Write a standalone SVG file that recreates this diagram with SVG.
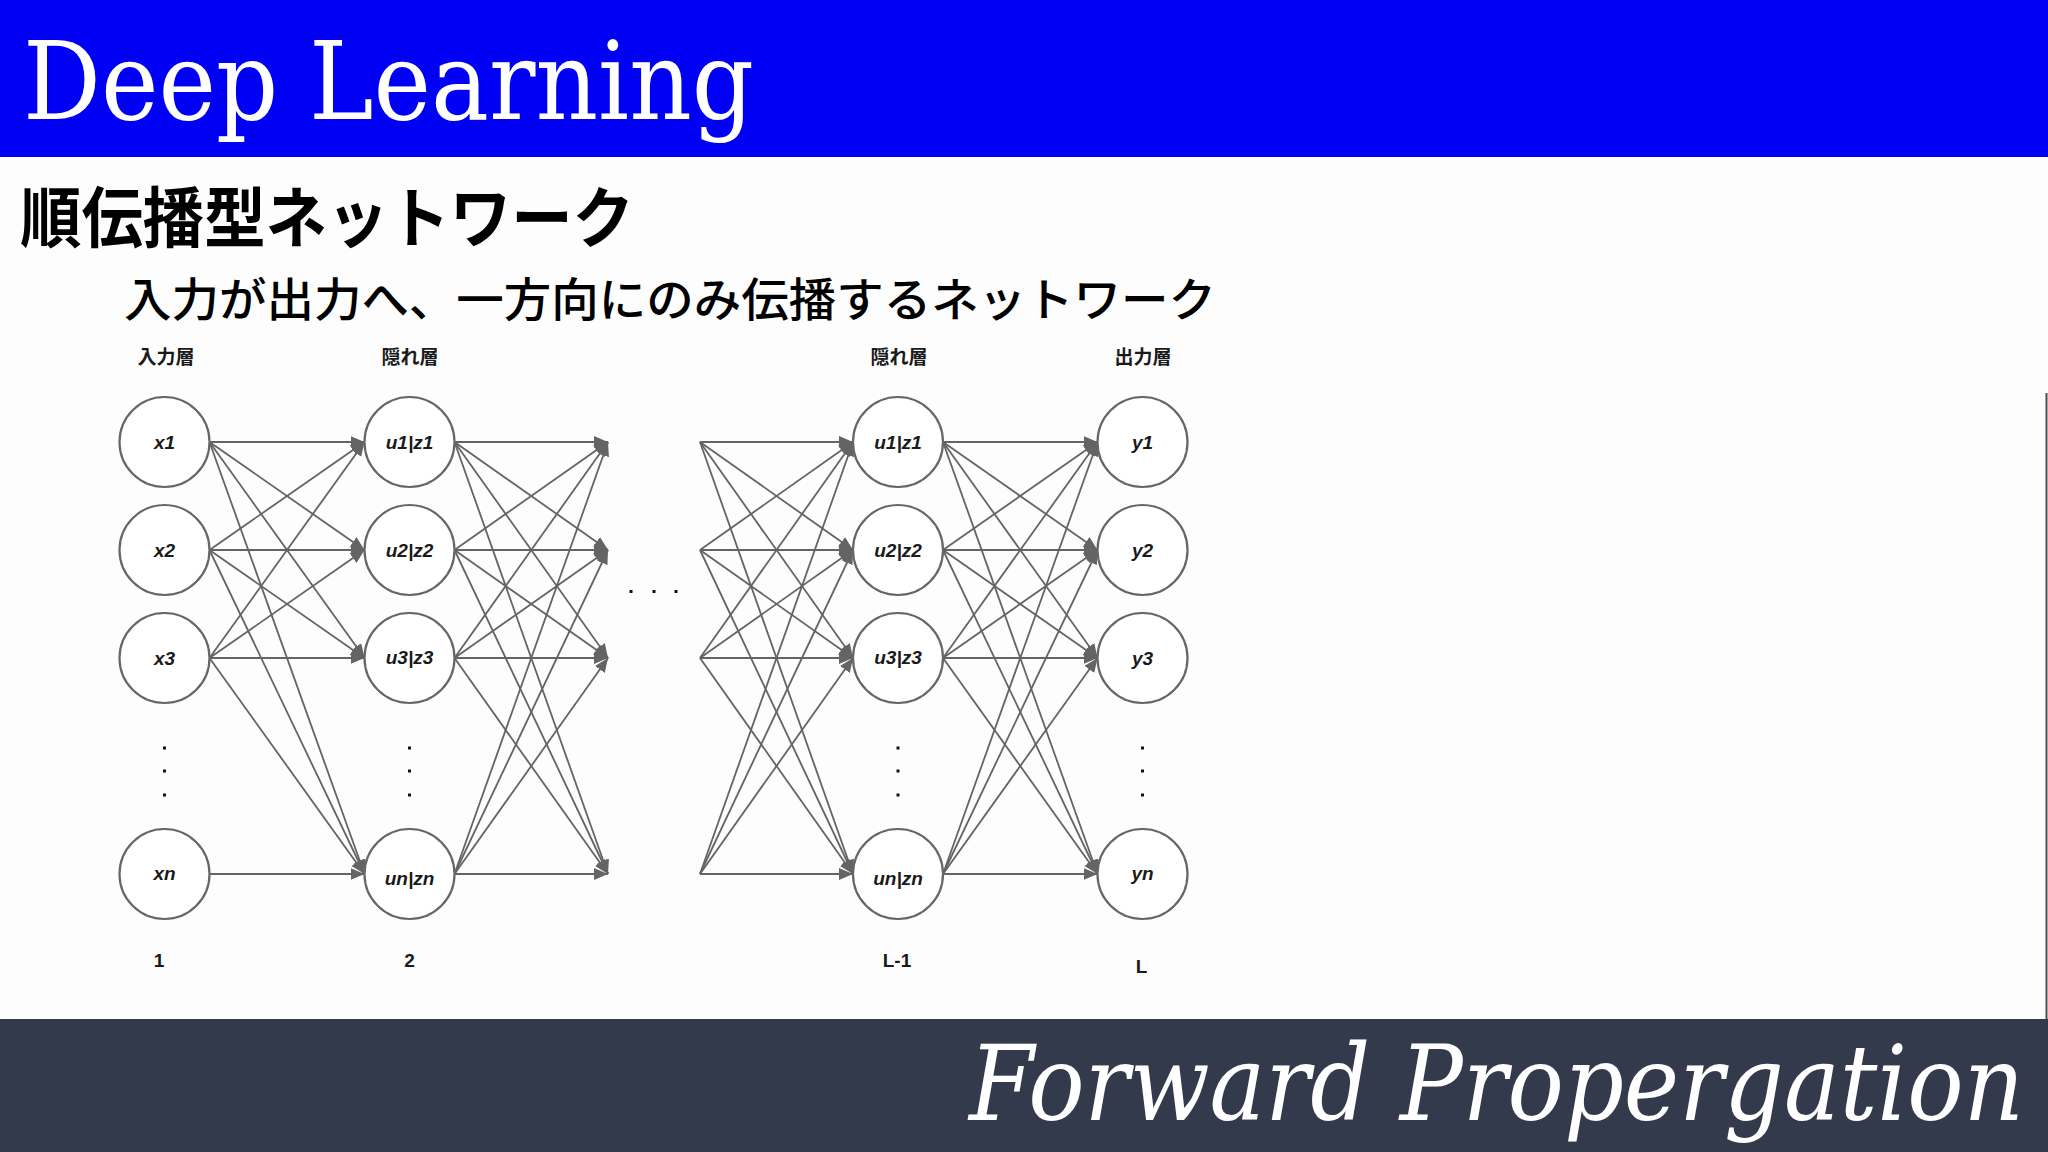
<svg xmlns="http://www.w3.org/2000/svg" width="2048" height="1152" viewBox="0 0 2048 1152">
  <style>
    .node circle { fill: #ffffff; stroke: #666666; stroke-width: 2.2; }
    .nl { font-family: "Liberation Sans", Arial, sans-serif; font-weight: bold; font-style: italic; font-size: 19px; fill: #1a1a1a; text-anchor: middle; }
    .ll { font-family: "Noto Sans CJK JP", "Noto Sans", sans-serif; font-weight: bold; font-size: 19px; fill: #1a1a1a; text-anchor: middle; }
    .num { font-family: "Liberation Sans", Arial, sans-serif; font-weight: bold; font-size: 19px; fill: #1a1a1a; text-anchor: middle; }
    .e { stroke: #646464; stroke-width: 1.8; fill: none; marker-end: url(#arr); }
    .dot { fill: #111111; }
  </style>
  <defs>
    <marker id="arr" markerUnits="userSpaceOnUse" markerWidth="15" markerHeight="13" refX="14" refY="6" orient="auto">
      <path d="M0,0 L14,6 L0,12 z" fill="#646464"/>
    </marker>
  </defs>

  <rect x="0" y="0" width="2048" height="1152" fill="#fdfdfd"/>

  <!-- Header -->
  <g id="header">
    <rect x="0" y="0" width="2048" height="157" fill="#0000f5"/>
    <text x="23" y="119" font-family="'DejaVu Serif Condensed', 'DejaVu Serif', serif" font-size="108" fill="#ffffff" textLength="731" lengthAdjust="spacingAndGlyphs">Deep Learning</text>
  </g>

  <!-- Titles -->
  <g id="titles">
    <text x="20" y="242" font-family="'Noto Sans CJK JP', sans-serif" font-weight="bold" font-size="66" fill="#000000" textLength="614" lengthAdjust="spacingAndGlyphs">順伝播型ネットワーク</text>
    <text x="124" y="316" font-family="'Noto Sans CJK JP', sans-serif" font-weight="500" font-size="46" fill="#000000" textLength="1092" lengthAdjust="spacingAndGlyphs">入力が出力へ、一方向にのみ伝播するネットワーク</text>
  </g>

  <!-- Layer labels -->
  <g id="layer-labels">
    <text class="ll" x="166" y="364">入力層</text>
    <text class="ll" x="410" y="364">隠れ層</text>
    <text class="ll" x="899" y="364">隠れ層</text>
    <text class="ll" x="1143" y="364">出力層</text>
  </g>

  <!-- Connectors -->
  <g id="connectors">
    <!-- layer 1 -> layer 2 -->
    <line class="e" x1="209.5" y1="442" x2="364.5" y2="442"/>
    <line class="e" x1="209.5" y1="442" x2="364.5" y2="550"/>
    <line class="e" x1="209.5" y1="442" x2="364.5" y2="658"/>
    <line class="e" x1="209.5" y1="442" x2="364.5" y2="874"/>
    <line class="e" x1="209.5" y1="550" x2="364.5" y2="442"/>
    <line class="e" x1="209.5" y1="550" x2="364.5" y2="550"/>
    <line class="e" x1="209.5" y1="550" x2="364.5" y2="658"/>
    <line class="e" x1="209.5" y1="550" x2="364.5" y2="874"/>
    <line class="e" x1="209.5" y1="658" x2="364.5" y2="442"/>
    <line class="e" x1="209.5" y1="658" x2="364.5" y2="550"/>
    <line class="e" x1="209.5" y1="658" x2="364.5" y2="658"/>
    <line class="e" x1="209.5" y1="658" x2="364.5" y2="874"/>
    <line class="e" x1="209.5" y1="874" x2="364.5" y2="874"/>
    <!-- layer 2 -> next -->
    <line class="e" x1="454.5" y1="442" x2="608" y2="442"/>
    <line class="e" x1="454.5" y1="442" x2="608" y2="550"/>
    <line class="e" x1="454.5" y1="442" x2="608" y2="658"/>
    <line class="e" x1="454.5" y1="442" x2="608" y2="874"/>
    <line class="e" x1="454.5" y1="550" x2="608" y2="442"/>
    <line class="e" x1="454.5" y1="550" x2="608" y2="550"/>
    <line class="e" x1="454.5" y1="550" x2="608" y2="658"/>
    <line class="e" x1="454.5" y1="550" x2="608" y2="874"/>
    <line class="e" x1="454.5" y1="658" x2="608" y2="442"/>
    <line class="e" x1="454.5" y1="658" x2="608" y2="550"/>
    <line class="e" x1="454.5" y1="658" x2="608" y2="658"/>
    <line class="e" x1="454.5" y1="658" x2="608" y2="874"/>
    <line class="e" x1="454.5" y1="874" x2="608" y2="442"/>
    <line class="e" x1="454.5" y1="874" x2="608" y2="550"/>
    <line class="e" x1="454.5" y1="874" x2="608" y2="658"/>
    <line class="e" x1="454.5" y1="874" x2="608" y2="874"/>
    <!-- previous -> layer L-1 -->
    <line class="e" x1="700" y1="442" x2="853" y2="442"/>
    <line class="e" x1="700" y1="442" x2="853" y2="550"/>
    <line class="e" x1="700" y1="442" x2="853" y2="658"/>
    <line class="e" x1="700" y1="442" x2="853" y2="874"/>
    <line class="e" x1="700" y1="550" x2="853" y2="442"/>
    <line class="e" x1="700" y1="550" x2="853" y2="550"/>
    <line class="e" x1="700" y1="550" x2="853" y2="658"/>
    <line class="e" x1="700" y1="550" x2="853" y2="874"/>
    <line class="e" x1="700" y1="658" x2="853" y2="442"/>
    <line class="e" x1="700" y1="658" x2="853" y2="550"/>
    <line class="e" x1="700" y1="658" x2="853" y2="658"/>
    <line class="e" x1="700" y1="658" x2="853" y2="874"/>
    <line class="e" x1="700" y1="874" x2="853" y2="442"/>
    <line class="e" x1="700" y1="874" x2="853" y2="550"/>
    <line class="e" x1="700" y1="874" x2="853" y2="658"/>
    <line class="e" x1="700" y1="874" x2="853" y2="874"/>
    <!-- layer L-1 -> layer L -->
    <line class="e" x1="943" y1="442" x2="1097.5" y2="442"/>
    <line class="e" x1="943" y1="442" x2="1097.5" y2="550"/>
    <line class="e" x1="943" y1="442" x2="1097.5" y2="658"/>
    <line class="e" x1="943" y1="442" x2="1097.5" y2="874"/>
    <line class="e" x1="943" y1="550" x2="1097.5" y2="442"/>
    <line class="e" x1="943" y1="550" x2="1097.5" y2="550"/>
    <line class="e" x1="943" y1="550" x2="1097.5" y2="658"/>
    <line class="e" x1="943" y1="550" x2="1097.5" y2="874"/>
    <line class="e" x1="943" y1="658" x2="1097.5" y2="442"/>
    <line class="e" x1="943" y1="658" x2="1097.5" y2="550"/>
    <line class="e" x1="943" y1="658" x2="1097.5" y2="658"/>
    <line class="e" x1="943" y1="658" x2="1097.5" y2="874"/>
    <line class="e" x1="943" y1="874" x2="1097.5" y2="442"/>
    <line class="e" x1="943" y1="874" x2="1097.5" y2="550"/>
    <line class="e" x1="943" y1="874" x2="1097.5" y2="658"/>
    <line class="e" x1="943" y1="874" x2="1097.5" y2="874"/>
  </g>

  <!-- Nodes: input layer -->
  <g id="node-x1" class="node"><circle cx="164.5" cy="442" r="45"/><text class="nl" x="164.5" y="449">x1</text></g>
  <g id="node-x2" class="node"><circle cx="164.5" cy="550" r="45"/><text class="nl" x="164.5" y="557">x2</text></g>
  <g id="node-x3" class="node"><circle cx="164.5" cy="658" r="45"/><text class="nl" x="164.5" y="665">x3</text></g>
  <g id="node-xn" class="node"><circle cx="164.5" cy="874" r="45"/><text class="nl" x="164.5" y="880">xn</text></g>

  <!-- Nodes: hidden layer 2 -->
  <g id="node-h2-1" class="node"><circle cx="409.5" cy="442" r="45"/><text class="nl" x="409.5" y="449">u1|z1</text></g>
  <g id="node-h2-2" class="node"><circle cx="409.5" cy="550" r="45"/><text class="nl" x="409.5" y="557">u2|z2</text></g>
  <g id="node-h2-3" class="node"><circle cx="409.5" cy="658" r="45"/><text class="nl" x="409.5" y="664">u3|z3</text></g>
  <g id="node-h2-n" class="node"><circle cx="409.5" cy="874" r="45"/><text class="nl" x="409.5" y="885">un|zn</text></g>

  <!-- Nodes: hidden layer L-1 -->
  <g id="node-hL1-1" class="node"><circle cx="898" cy="442" r="45"/><text class="nl" x="898" y="449">u1|z1</text></g>
  <g id="node-hL1-2" class="node"><circle cx="898" cy="550" r="45"/><text class="nl" x="898" y="557">u2|z2</text></g>
  <g id="node-hL1-3" class="node"><circle cx="898" cy="658" r="45"/><text class="nl" x="898" y="664">u3|z3</text></g>
  <g id="node-hL1-n" class="node"><circle cx="898" cy="874" r="45"/><text class="nl" x="898" y="885">un|zn</text></g>

  <!-- Nodes: output layer -->
  <g id="node-y1" class="node"><circle cx="1142.5" cy="442" r="45"/><text class="nl" x="1142.5" y="449">y1</text></g>
  <g id="node-y2" class="node"><circle cx="1142.5" cy="550" r="45"/><text class="nl" x="1142.5" y="557">y2</text></g>
  <g id="node-y3" class="node"><circle cx="1142.5" cy="658" r="45"/><text class="nl" x="1142.5" y="665">y3</text></g>
  <g id="node-yn" class="node"><circle cx="1142.5" cy="874" r="45"/><text class="nl" x="1142.5" y="880">yn</text></g>

  <!-- Ellipsis dots -->
  <g id="dots">
    <rect class="dot" x="163" y="746.5" width="3" height="3"/>
    <rect class="dot" x="163" y="769.5" width="3" height="3"/>
    <rect class="dot" x="163" y="793.5" width="3" height="3"/>
    <rect class="dot" x="408" y="746.5" width="3" height="3"/>
    <rect class="dot" x="408" y="769.5" width="3" height="3"/>
    <rect class="dot" x="408" y="793.5" width="3" height="3"/>
    <rect class="dot" x="896.5" y="746.5" width="3" height="3"/>
    <rect class="dot" x="896.5" y="769.5" width="3" height="3"/>
    <rect class="dot" x="896.5" y="793.5" width="3" height="3"/>
    <rect class="dot" x="1141" y="746.5" width="3" height="3"/>
    <rect class="dot" x="1141" y="769.5" width="3" height="3"/>
    <rect class="dot" x="1141" y="793.5" width="3" height="3"/>
    <rect class="dot" x="629.5" y="590" width="3" height="3"/>
    <rect class="dot" x="652.5" y="590" width="3" height="3"/>
    <rect class="dot" x="674.5" y="590" width="3" height="3"/>
  </g>

  <!-- Layer numbers -->
  <g id="layer-numbers">
    <text class="num" x="159" y="967">1</text>
    <text class="num" x="409.5" y="967">2</text>
    <text class="num" x="897" y="967">L-1</text>
    <text class="num" x="1141.5" y="973">L</text>
  </g>

  <!-- Right edge line -->
  <line x1="2046.5" y1="393" x2="2046.5" y2="1019" stroke="#4a4d58" stroke-width="2"/>

  <!-- Footer -->
  <g id="footer">
    <rect x="0" y="1019" width="2048" height="133" fill="#333a4b"/>
    <text x="969" y="1120" font-family="'DejaVu Serif Condensed', 'DejaVu Serif', serif" font-style="italic" font-size="104" fill="#ffffff" textLength="1055" lengthAdjust="spacingAndGlyphs">Forward Propergation</text>
  </g>
</svg>
